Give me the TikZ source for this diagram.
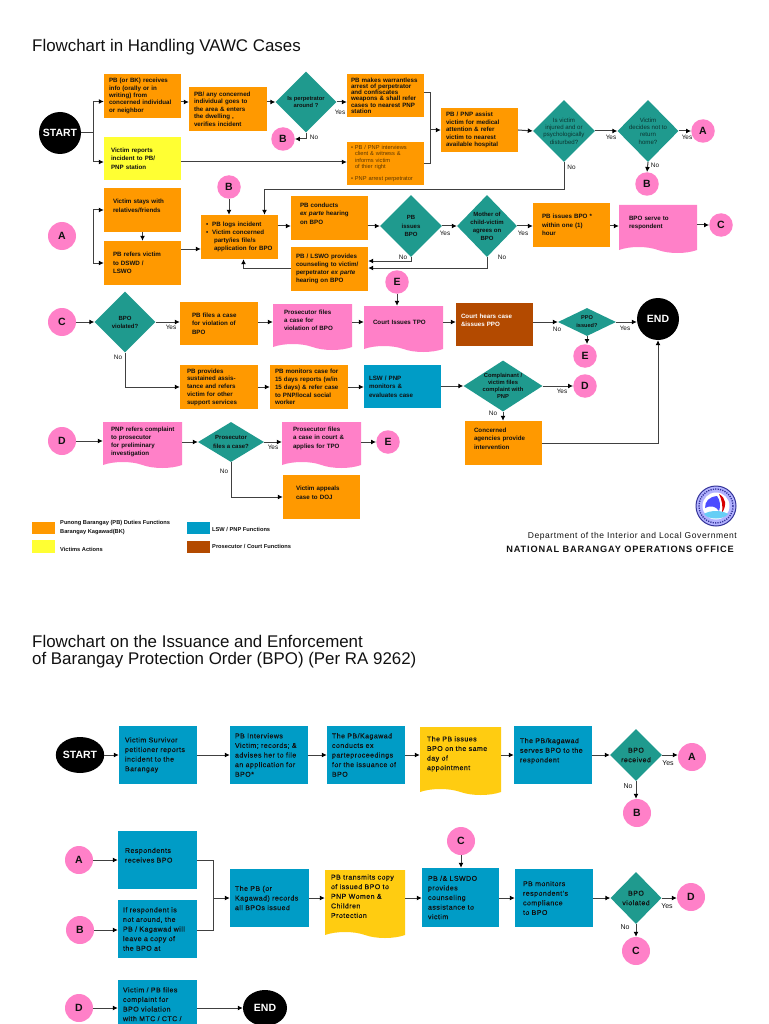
\documentclass[tikz,border=0pt]{standalone}
\usepackage{fontspec}
\setmainfont{Liberation Sans}
\newfontfamily\btx[LetterSpace=6.7,FakeBold=0.2]{Liberation Sans}
\newfontfamily\dlg[LetterSpace=7]{Liberation Sans}
\newfontfamily\nbo[LetterSpace=9.4,BoldFont={Liberation Sans Bold}]{Liberation Sans}
\usetikzlibrary{arrows.meta,shapes.geometric,shapes.symbols}
\definecolor{cor}{HTML}{FF9900}
\definecolor{cte}{HTML}{1F9A8E}
\definecolor{cye}{HTML}{FFFF33}
\definecolor{cbl}{HTML}{009CC6}
\definecolor{cbr}{HTML}{B34A00}
\definecolor{cam}{HTML}{FFCC11}
\definecolor{cpk}{HTML}{FF80C8}
\definecolor{cln}{HTML}{404040}
\definecolor{ctx}{HTML}{111111}
\tikzset{
 lead/.style={font=\fontsize{6.2}{#1}\selectfont\bfseries},
 leadb/.style={font=\btx\fontsize{7}{#1}\selectfont},
 obox/.style={rectangle,fill=cor,text=ctx,lead=7.4},
 ybox/.style={rectangle,fill=cye,text=ctx,lead=8.5},
 bbox/.style={rectangle,fill=cbl,text=ctx,leadb=9.6},
 rbox/.style={rectangle,fill=cbr,text=white,lead=8.5},
 pdoc/.style={shape=tape,tape bend top=none,tape bend bottom=out and in,tape bend height=6pt,fill=cpk,text=ctx,lead=8},
 adoc/.style={shape=tape,tape bend top=none,tape bend bottom=out and in,tape bend height=6pt,fill=cam,text=ctx,leadb=9.6},
 dia/.style={diamond,aspect=1,inner sep=0pt,fill=cte},
 dtx/.style={align=center,text=ctx,inner sep=0pt,font=\fontsize{5.8}{7.2}\selectfont\bfseries},
 dsm/.style={align=center,text=cte!35!black,inner sep=0pt,font=\fontsize{6.1}{7.3}\selectfont},
 dtb/.style={align=center,text=ctx,inner sep=0pt,font=\btx\fontsize{7}{9.6}\selectfont},
 pk/.style={circle,fill=cpk,inner sep=0pt,text=ctx,minimum size=23.5pt,font=\fontsize{10.5}{10}\selectfont\bfseries},
 pkb/.style={pk,minimum size=28pt},
 blk/.style={circle,fill=black,inner sep=0pt,text=white,minimum size=42pt,font=\fontsize{10.5}{10}\selectfont\bfseries},
 blke/.style={ellipse,fill=black,inner sep=0pt,text=white,minimum width=44pt,minimum height=36pt,font=\fontsize{10.5}{10}\selectfont\bfseries},
 conn/.style={draw=cln,line width=1pt,-{Latex[length=5pt,width=5pt,black]}},
 seg/.style={draw=cln,line width=1pt},
 yn/.style={inner sep=0pt,text=ctx,font=\fontsize{6.4}{6}\selectfont},
 yns/.style={inner sep=0pt,text=ctx,font=\fontsize{7}{6}\selectfont},
 legt/.style={anchor=west,inner sep=0pt,text=ctx,font=\fontsize{5.7}{6}\selectfont\bfseries},
 ttl/.style={anchor=west,inner sep=0pt,text=ctx,font=\fontsize{16.9}{19}\selectfont},
}
\newcommand\bx[7]{\node[#1,minimum width={(#5-#3)*1pt},minimum height={(#6-#4)*1pt},text width={(#5-#3-2)*1pt},inner xsep=1pt,inner ysep=0pt,align=left] (#2) at ({(#3+#5)/2},{(#4+#6)/2}) {\leftskip=4pt #7\par};}
\newcommand\dm[7]{\node[dia,minimum width={2*#5*1pt},minimum height={2*#6*1pt},label={[#1]center:{#7}}] (#2) at (#3,#4) {};}
\newcommand\ind[1]{\advance\leftskip #1pt\relax}
\begin{document}
\begin{tikzpicture}[x=1pt,y=-1pt]
\useasboundingbox (0,0) rectangle (768,1024);
\clip (0,0) rectangle (768,1024);
\fill[white] (0,0) rectangle (768,1024);

% ---------- titles
\node[ttl] (t1) at (32,47) {Flowchart in Handling VAWC Cases};
\node[ttl] (t2) at (32,641) {Flowchart on the Issuance and Enforcement};
\node[ttl] (t3) at (32,660) {of Barangay Protection Order (BPO) (Per RA 9262)};

% ---------- top flowchart: row 1
\node[blk] (start) at (60,133) {START};
\coordinate (j1) at (93,133);
\bx{obox}{b1}{104}{74}{181}{118}{PB (or BK) receives\\info (orally or in\\writing) from\\concerned individual\\or neighbor}
\bx{obox}{b2}{189}{87}{267}{131}{PB/ any concerned\\individual goes to\\the area \& enters\\the dwelling ,\\verifies incident}
\dm{dtx}{d1}{306}{102}{30.5}{30.5}{Is perpetrator\\around ?}
\node[pk] (B1) at (283,139) {B};
\bx{obox,lead=6.2}{b3}{347}{74}{424}{117}{\ind{-1}PB makes warrantless\\arrest of perpetrator\\and confiscates\\weapons \& shall refer\\cases to nearest PNP\\station}
\bx{ybox}{vic}{104}{137}{181}{180}{\ind{2}Victim reports\\incident to PB/\\PNP station}
\node[rectangle,fill=cor,minimum width=77pt,minimum height=43pt,inner sep=0pt,text width=75pt,align=left,text=black!55!cor!80!black,font=\fontsize{5.7}{6.5}\selectfont] (b4) at (385.5,163.5) {\leftskip=3pt • PB / PNP interviews\\\hspace*{4pt}client \& witness \&\\\hspace*{4pt}informs victim\\\hspace*{4pt}of thier right\\[5pt]• PNP arrest perpetrator\par};
\coordinate (j2) at (430,130);
\bx{obox}{b5}{441}{108}{518}{152}{PB / PNP assist\\victim for medical\\attention \& refer\\victim to nearest\\available hospital}
\dm{dsm}{d2}{564}{131}{31}{31}{Is victim\\injured and or\\psychologically\\disturbed?}
\dm{dsm}{d3}{648}{131}{30.5}{31}{Victim\\decides not to\\return\\home?}
\node[pk] (A1) at (703,131) {A};
\node[pk] (B2) at (647,184) {B};

% ---------- row 2
\node[pkb] (A2) at (62,236) {A};
\coordinate (j3) at (93,235);
\bx{obox,lead=8.7}{stay}{104}{188}{181}{232}{\ind{4}Victim stays with\\relatives/friends\\\mbox{}}
\bx{obox,lead=8.7}{ref}{104}{241}{181}{285}{\ind{4}PB refers victim\\to DSWD /\\LSWO}
\node[pk] (B3) at (229,187) {B};
\bx{obox,lead=8}{logs}{201}{215}{278}{259}{\textbullet\hspace{4pt}PB logs incident\\\textbullet\hspace{4pt}Victim concerned\\\hspace*{8pt}party/ies file/s\\\hspace*{8pt}application for BPO}
\bx{obox,lead=8.5}{cond}{291}{196}{368}{240}{\ind{4}PB conducts\\\textit{ex parte} hearing\\on BPO\\\mbox{}}
\bx{obox,lead=8}{lswo}{291}{247}{368}{291}{PB / LSWO provides\\counseling to victim/\\perpetrator \textit{ex parte}\\hearing on BPO}
\dm{dtx,font=\fontsize{6}{8.5}\selectfont\bfseries}{d4}{411}{226}{31}{31}{PB\\issues\\BPO}
\dm{dtx,font=\fontsize{6}{8}\selectfont\bfseries}{d5}{487}{226}{30}{31}{Mother of\\child-victim\\agrees on\\BPO}
\bx{obox,lead=8.5}{iss}{533}{203}{610}{247}{\ind{4}PB issues BPO *\\within one (1)\\hour}
\bx{pdoc}{srv}{619}{202}{697}{250}{\ind{5}BPO serve to\\respondent\\\mbox{}}
\node[pk] (C1) at (721,225) {C};
\node[pk] (E1) at (397,282) {E};

% ---------- row 3
\node[pkb] (C2) at (62,322) {C};
\dm{dtx,font=\fontsize{6}{8}\selectfont\bfseries}{d6}{125}{322}{30.5}{30.5}{BPO\\violated?}
\bx{obox,lead=8.7}{pbf}{180}{302}{258}{345}{\ind{7}PB files a case\\for violation of\\BPO}
\bx{pdoc}{pro}{273}{301}{352}{347}{\ind{6}Prosecutor files\\a case for\\violation of BPO\\\mbox{}}
\bx{pdoc}{tpo}{364}{303}{443}{349}{\ind{4}Court Issues TPO\\\mbox{}}
\bx{rbox}{hear}{456}{303}{533}{346}{Court hears case\\\&issues PPO\\\mbox{}}
\dm{dtx,font=\fontsize{5.6}{8}\selectfont\bfseries}{d7}{587}{322}{29}{14}{PPO\\issued?}
\node[blk] (end1) at (658,319) {END};
\node[pk] (E2) at (585,356) {E};

% ---------- row 4
\bx{obox,lead=7.8}{prv}{180}{365}{258}{409}{\ind{2}PB provides\\sustained assis-\\tance and refers\\victim for other\\support services}
\bx{obox,lead=7.8}{mon}{270}{365}{348}{409}{PB monitors case for\\15 days reports (w/in\\15 days) \& refer case\\to PNP/local social\\worker}
\bx{rbox,fill=cbl,text=ctx}{lsw}{364}{365}{441}{408}{LSW / PNP\\monitors \&\\evaluates case}
\dm{dtx,font=\fontsize{5.8}{7.2}\selectfont\bfseries}{d8}{503}{386}{39.5}{25.5}{Complainant /\\victim files\\complaint with\\PNP}
\node[pk] (D1) at (585,386) {D};
\bx{obox,lead=8.5}{agn}{465}{421}{542}{465}{\ind{4}Concerned\\agencies provide\\intervention\\\mbox{}}

% ---------- row 5
\node[pkb] (D2) at (62,441) {D};
\bx{pdoc,lead=8}{pnp}{103}{419}{182}{465}{\ind{3}PNP refers complaint\\to prosecutor\\for preliminary\\investigation}
\dm{dtx,font=\fontsize{6}{9}\selectfont\bfseries}{d9}{231}{442}{33}{20}{Prosecutor\\files a case?}
\bx{pdoc,lead=8.5}{pr2}{282}{419}{361}{465}{\ind{6}Prosecutor files\\a case in court \&\\applies for TPO\\\mbox{}}
\node[pk] (E3) at (388,442) {E};
\bx{obox,lead=8.7}{doj}{283}{475}{360}{519}{\ind{8}Victim appeals\\case to DOJ\\\mbox{}}

% ---------- legend
\fill[cor] (32,522) rectangle (55,534);
\fill[cye] (32,540) rectangle (55,553);
\fill[cbl] (187,522) rectangle (210,534);
\fill[cbr] (187,541) rectangle (210,553);
\node[legt] (l1) at (60,523.5) {Punong Barangay (PB) Duties Functions};
\node[legt] (l2) at (60,532) {Barangay Kagawad(BK)};
\node[legt] (l3) at (60,549) {Victims Actions};
\node[legt] (l4) at (212,529) {LSW / PNP Functions};
\node[legt] (l5) at (212,546) {Prosecutor / Court Functions};

% ---------- logo
\fill[white!70!blue,draw=blue!50!black!80,line width=1pt] (716,506) circle (20);
\fill[white] (716,506) circle (13.5);
\draw[blue!50!black!80,line width=1.4pt,dash pattern=on 1.2pt off 1.2pt] (716,506) circle (17);
\fill[red!85!black] (719,494) .. controls (726,498) and (727,505) .. (722,513) .. controls (723,506) and (722,500) .. (719,494);
\fill[blue!70!white] (717,496) .. controls (709,497) and (705,501) .. (705,508) .. controls (710,505) and (716,506) .. (719,511) .. controls (721,506) and (720,500) .. (717,496);
\fill[cyan!60!white] (704,514) .. controls (710,510) and (722,510) .. (728,514) .. controls (724,520) and (708,520) .. (704,514);
\node[anchor=east,inner sep=0pt,text=ctx,font=\dlg\fontsize{8.5}{9}\selectfont] (dilg) at (737,536) {Department of the Interior and Local Government};
\node[anchor=east,inner sep=0pt,text=ctx,font=\nbo\fontsize{9.2}{10}\selectfont\bfseries] (nboo) at (734,549) {NATIONAL BARANGAY OPERATIONS OFFICE};

% ---------- top connectors
\draw[seg] (start.east) -- (j1);
\draw[conn] (j1) |- ([yshift=-5.5pt]b1.west);
\draw[conn] (j1) |- ([yshift=-3.5pt]vic.west);
\draw[conn] (b1.east |- d1.west) -- (b2.west |- d1.west);
\draw[conn] (b2.east |- d1.west) -- (d1.west);
\draw[conn] (d1.east) -- (b3.west |- d1.east);
\draw[conn] (d1.south) |- (B1.east);
\draw[conn] ([yshift=-3.5pt]vic.east) -- ([yshift=1.5pt]b4.west);
\draw[seg] ([yshift=2.5pt]b3.east) -| (j2);
\draw[seg] (b4.east) -| (j2);
\draw[conn] (j2) -- (b5.west |- j2);
\draw[conn] (b5.east) -- (d2.west);
\draw[conn] (d2.east) -- (d3.west);
\draw[conn] (d3.east) -- (A1.west);
\draw[conn] (d3.south) -- (B2.north);
\draw[conn] (d2.south) -- (564,190) -| ([xshift=25pt]logs.north);
\draw[conn] (B3.south) -- (logs.north -| B3.south);
\draw[conn] (j3) |- (stay.west);
\draw[conn] (j3) |- (ref.west);
\draw[conn] (stay.south) -- (ref.north);
\draw[conn] ([yshift=14pt]ref.east) -- ([yshift=-12pt]logs.west);
\draw[conn] (logs.east |- d4.west) -- (cond.west |- d4.west);
\draw[conn] (cond.east |- d4.west) -- (d4.west);
\draw[conn] (d4.east) -- (d5.west);
\draw[conn] (d5.east) -- (iss.west |- d5.east);
\draw[conn] (iss.east |- d5.east) -- (srv.west |- d5.east);
\draw[conn] (srv.east |- C1.west) -- (C1.west);
\draw[conn] (d4.south) |- ([yshift=8pt]lswo.east);
\draw[conn] (d5.south) |- ([yshift=1pt]lswo.east);
\draw[conn] ([yshift=1pt]lswo.west) -| ([xshift=4pt]logs.south);
\draw[conn] (E1.south) -- (tpo.north -| E1.south);
\draw[conn] (C2.east) -- (d6.west);
\draw[conn] (d6.east) -- (pbf.west |- d6.east);
\draw[conn] (pbf.east |- d6.east) -- (pro.west |- d6.east);
\draw[conn] (pro.east |- d6.east) -- (tpo.west |- d6.east);
\draw[conn] (tpo.east |- d7.west) -- (hear.west |- d7.west);
\draw[conn] (hear.east |- d7.west) -- (d7.west);
\draw[conn] (d7.east) -- (end1.west |- d7.east);
\draw[conn] (d7.south) -- (E2.north -| d7.south);
\draw[conn] (d6.south) |- (prv.west);
\draw[conn] (prv.east) -- (mon.west);
\draw[conn] (mon.east) -- (lsw.west |- mon.east);
\draw[conn] (lsw.east |- d8.west) -- (d8.west);
\draw[conn] (d8.east) -- (D1.west);
\draw[conn] (d8.south) -- (agn.north -| d8.south);
\draw[conn] (agn.east) -| (end1.south);
\draw[conn] (D2.east) -- (pnp.west |- D2.east);
\draw[conn] (pnp.east |- d9.west) -- (d9.west);
\draw[conn] (d9.east) -- (pr2.west |- d9.east);
\draw[conn] (pr2.east |- E3.west) -- (E3.west);
\draw[conn] (d9.south) |- (doj.west);

% ---------- top yes / no
\node[yn] (y1) at (340,112) {Yes};
\node[yn] (n1) at (314,137) {No};
\node[yn] (y2) at (611,137) {Yes};
\node[yn] (y3) at (687,137) {Yes};
\node[yn] (n2) at (571.5,167) {No};
\node[yn] (n3) at (655,165) {No};
\node[yn] (y4) at (445,233) {Yes};
\node[yn] (y5) at (523,233) {Yes};
\node[yn] (n4) at (403,257) {No};
\node[yn] (n5) at (502,257) {No};
\node[yn] (y6) at (171,327) {Yes};
\node[yn] (n6) at (118,357) {No};
\node[yn] (n7) at (557,329) {No};
\node[yn] (y7) at (625,328) {Yes};
\node[yn] (y8) at (562,391) {Yes};
\node[yn] (n8) at (493,413) {No};
\node[yn] (y9) at (273,447) {Yes};
\node[yn] (n9) at (224,471) {No};

% ---------- bottom flowchart
\node[blke] (start2) at (80,755) {START};
\bx{bbox}{v1}{119}{726}{197}{784}{\ind{1}Victim Survivor\\petitioner reports\\incident to the\\Barangay}
\bx{bbox}{v2}{230}{726}{308}{784}{PB Interviews\\Victim; records; \&\\advises her to file\\an application for\\BPO*}
\bx{bbox}{v3}{327}{726}{405}{784}{The PB/Kagawad\\conducts ex\\parteproceedings\\for the issuance of\\BPO}
\bx{adoc}{v4}{420}{724}{501}{792}{\ind{2}The PB issues\\BPO on the same\\day of\\appointment\\\mbox{}}
\bx{bbox}{v5}{514}{726}{592}{784}{\ind{1}The PB/kagawad\\serves BPO to the\\respondent\\\mbox{}}
\dm{dtb}{d10}{636}{755}{26}{26}{BPO\\received}
\node[pkb] (A3) at (692,757) {A};
\node[pkb] (B4) at (637,813) {B};

\node[pkb] (A4) at (79,860) {A};
\bx{bbox}{r1}{118}{831}{197}{889}{\ind{2}Respondents\\receives BPO\\\mbox{}}
\node[pkb] (B5) at (80,930) {B};
\bx{bbox}{r2}{118}{900}{197}{958}{If respondent is\\not around, the\\PB / Kagawad will\\leave a copy of\\the BPO at}
\coordinate (j4) at (213,898);
\bx{bbox}{r3}{230}{869}{309}{927}{The PB (or\\Kagawad) records\\all BPOs issued}
\bx{adoc}{r4}{325}{867}{405}{935}{\ind{1}PB transmits copy\\of issued BPO to\\PNP Women \&\\Children\\Protection\\\mbox{}}
\node[pkb] (C3) at (461,841) {C};
\bx{bbox}{r5}{422}{868}{499}{927}{\ind{1}PB /\& LSWDO\\provides\\counseling\\assistance to\\victim}
\bx{bbox}{r6}{515}{869}{593}{927}{\ind{3}PB monitors\\respondent's\\compliance\\to BPO}
\dm{dtb}{d11}{636}{898}{25.5}{26}{BPO\\violated}
\node[pkb] (D3) at (691,897) {D};
\node[pkb] (C4) at (636,951) {C};

\node[pkb] (D4) at (79,1008) {D};
\bx{bbox}{r7}{118}{980}{197}{1038}{Victim / PB files\\complaint for\\BPO violation\\with MTC / CTC /\\\mbox{}}
\node[blke] (end2) at (265,1008) {END};

% ---------- bottom connectors
\draw[conn] (start2.east) -- (v1.west);
\draw[conn] (v1.east) -- (v2.west);
\draw[conn] (v2.east) -- (v3.west);
\draw[conn] (v3.east) -- (v4.west |- v3.east);
\draw[conn] (v4.east |- v3.east) -- (v5.west);
\draw[conn] (v5.east) -- (d10.west);
\draw[conn] (d10.east) -- (A3.west |- d10.east);
\draw[conn] (d10.south) -- (B4.north -| d10.south);
\draw[conn] (A4.east) -- (r1.west |- A4.east);
\draw[conn] (B5.east) -- (r2.west |- B5.east);
\draw[seg] (r1.east |- A4.east) -| (j4);
\draw[seg] (r2.east |- B5.east) -| (j4);
\draw[conn] (j4) -- (r3.west |- j4);
\draw[conn] (r3.east) -- (r4.west |- r3.east);
\draw[conn] (r4.east |- r3.east) -- (r5.west |- r3.east);
\draw[conn] (C3.south) -- (r5.north -| C3.south);
\draw[conn] (r5.east |- r3.east) -- (r6.west |- r3.east);
\draw[conn] (r6.east |- d11.west) -- (d11.west);
\draw[conn] (d11.east) -- (D3.west |- d11.east);
\draw[conn] (d11.south) -- (C4.north);
\draw[conn] (D4.east) -- (r7.west |- D4.east);
\draw[conn] (r7.east |- end2.west) -- (end2.west);

\node[yns] (y10) at (668,763) {Yes};
\node[yns] (n10) at (628,786) {No};
\node[yns] (y11) at (667,906) {Yes};
\node[yns] (n11) at (625,927) {No};
\end{tikzpicture}
\end{document}
